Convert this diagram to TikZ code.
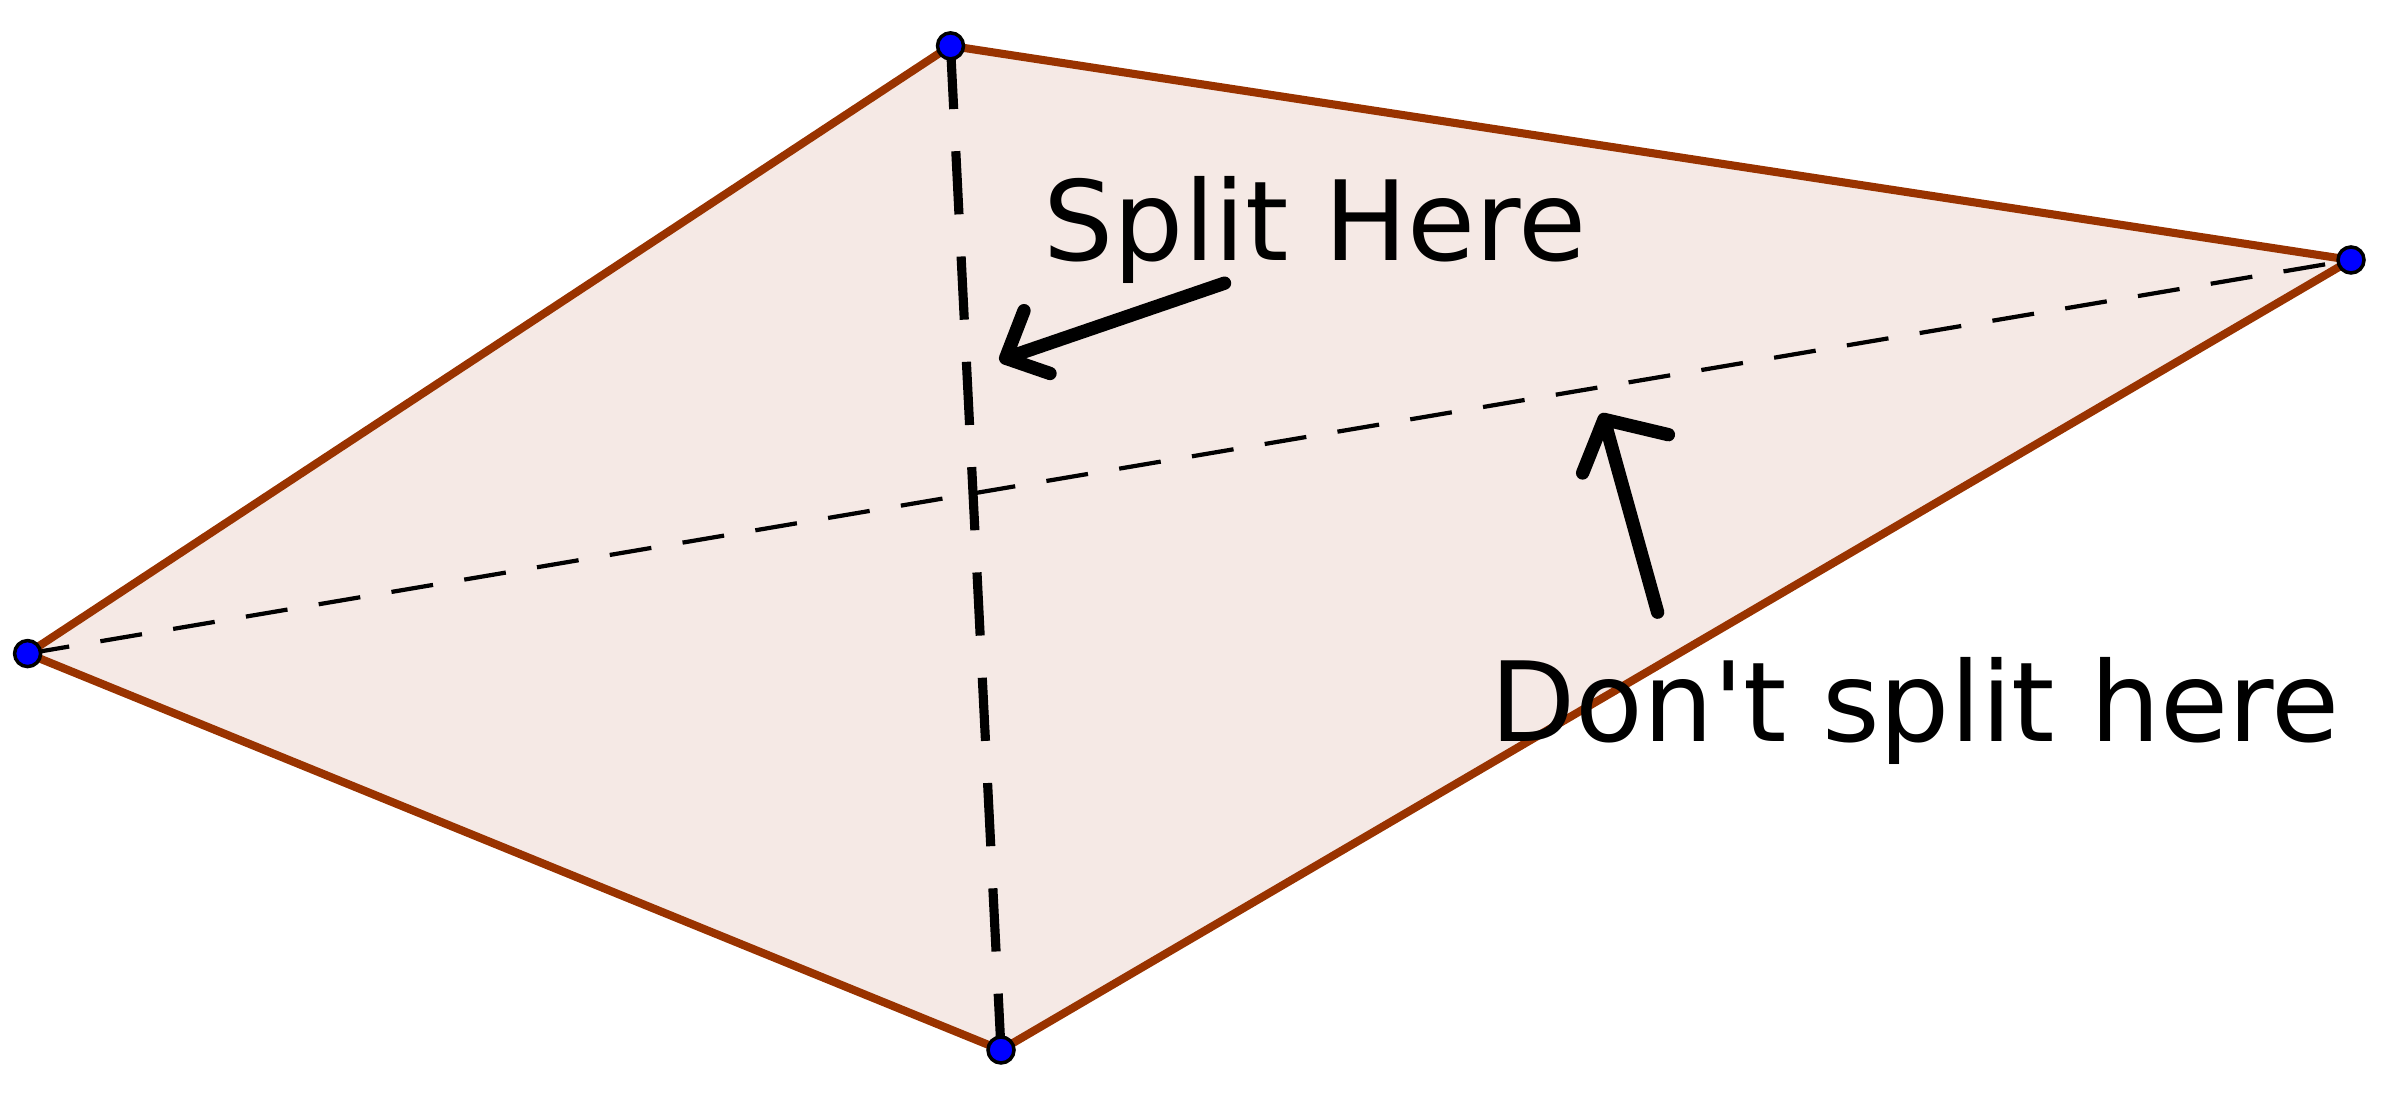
\documentclass[tikz,border=0pt]{standalone}
\usepackage{fontspec}
\setmainfont{DejaVu Sans}
\definecolor{edgec}{RGB}{153,51,0}
\definecolor{fillc}{RGB}{245,233,229}
\tikzset{pt/.style={circle,draw=black,fill=blue,line width=1pt,inner sep=0pt,minimum size=0.26cm},
edge/.style={edgec,line width=2.3pt},
arr/.style={line width=3.8pt,line cap=round,line join=round},
lbl/.style={font=\fontsize{31.5}{36}\selectfont,inner sep=0pt}}
\begin{document}
\begin{tikzpicture}
\useasboundingbox (0,0) rectangle (24,11.04);
\coordinate (T) at (9.505,10.581);
\coordinate (R) at (23.51,8.44);
\coordinate (L) at (0.276,4.504);
\coordinate (B) at (10.01,0.54);
\fill[fillc] (T)--(R)--(B)--(L)--cycle;
\draw[black,line width=1.2pt,dash pattern=on 12pt off 9pt] (L)--(R);
\draw[black,line width=2.6pt,dash pattern=on 18pt off 12pt] (T)--(B);
\draw[edge,line join=round] (T)--(R)--(B)--(L)--cycle;
\node[pt] (t) at (T) {};
\node[pt] (r) at (R) {};
\node[pt] (l) at (L) {};
\node[pt] (b) at (B) {};
\node[lbl] (s1) at (13.15,8.74) {Split Here};
\node[lbl] (s2) at (19.15,3.93) {Don\textquotesingle t split here};
\coordinate (a1s) at (12.245,8.208);
\coordinate (a1t) at (10.056,7.458);
\coordinate (a1l) at (10.24,7.933);
\coordinate (a1r) at (10.50,7.305);
\draw[arr] (a1s)--(a1t) (a1l)--(a1t)--(a1r);
\coordinate (a2s) at (16.576,4.918);
\coordinate (a2t) at (16.04,6.846);
\coordinate (a2l) at (15.826,6.31);
\coordinate (a2r) at (16.684,6.693);
\draw[arr] (a2s)--(a2t) (a2l)--(a2t)--(a2r);
\end{tikzpicture}
\end{document}
